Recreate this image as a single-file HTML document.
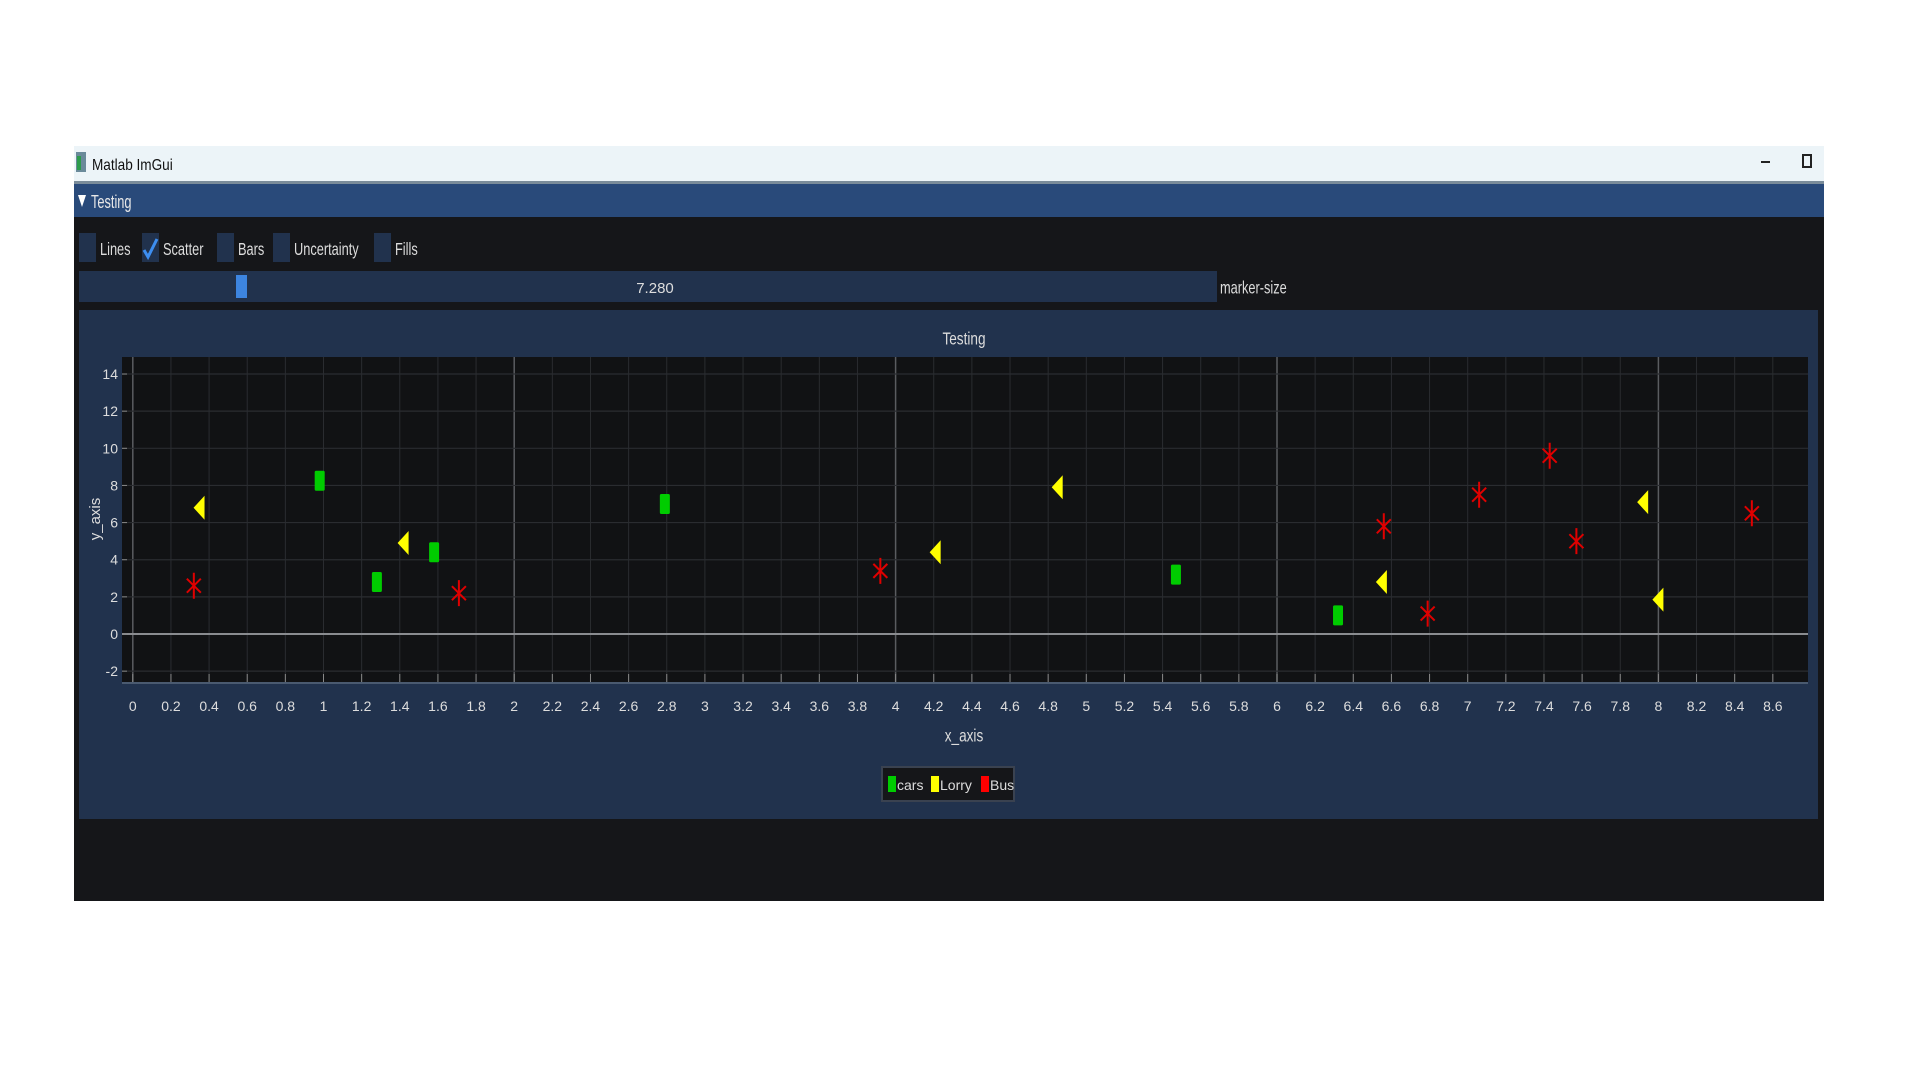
<!DOCTYPE html>
<html><head><meta charset="utf-8"><style>
html,body{margin:0;padding:0;background:#fff;width:1920px;height:1080px;overflow:hidden}
svg{display:block}
text{font-family:"Liberation Sans Narrow","Liberation Sans",sans-serif}
</style></head><body>
<svg id="root" width="1920" height="1080" viewBox="0 0 1920 1080">
 <rect x="0" y="0" width="1920" height="1080" fill="#ffffff"/>
 <g>
  <rect x="74" y="146" width="1750" height="35" fill="#ecf4f8"/>
  <rect x="74" y="181" width="1750" height="3" fill="#7a8c9a"/>
  <rect x="76" y="152" width="10" height="20" fill="#6a8a9a"/><rect x="77" y="156" width="4" height="14" fill="#2c9c4c"/>
  <text x="92" y="170" font-size="16" fill="#111" transform="translate(92,0) scale(0.85,1) translate(-92,0)">Matlab ImGui</text>
  <rect x="1761" y="161" width="9" height="2" fill="#222"/>
  <rect x="1803" y="155" width="8" height="12" fill="none" stroke="#222" stroke-width="2"/>
 </g>
 <rect x="74" y="184" width="1750" height="717" fill="#151619"/>
 <g>
  <rect x="74" y="184" width="1750" height="33" fill="#294a7a"/>
  <polygon points="78,195 86,195 82,207" fill="#fff"/>
  <text x="91" y="208" font-size="16" fill="#e8e8e8" transform="translate(91,0) scale(0.8,1.15) translate(-91,-27)">Testing</text>
 </g>
 <g>
  <rect x="79" y="233" width="17" height="29" fill="#21324d"/>
  <text x="100" y="255" font-size="16" fill="#ddd" transform="translate(100,0) scale(0.8,1.1) translate(-100,-23)">Lines</text>
  <rect x="142" y="233" width="17" height="29" fill="#21324d"/>
  <polyline points="144,250 148,257 157,239" fill="none" stroke="#3d8ef0" stroke-width="3"/>
  <text x="163" y="255" font-size="16" fill="#ddd" transform="translate(163,0) scale(0.8,1.1) translate(-163,-23)">Scatter</text>
  <rect x="217" y="233" width="17" height="29" fill="#21324d"/>
  <text x="238" y="255" font-size="16" fill="#ddd" transform="translate(238,0) scale(0.8,1.1) translate(-238,-23)">Bars</text>
  <rect x="273" y="233" width="17" height="29" fill="#21324d"/>
  <text x="294" y="255" font-size="16" fill="#ddd" transform="translate(294,0) scale(0.8,1.1) translate(-294,-23)">Uncertainty</text>
  <rect x="374" y="233" width="17" height="29" fill="#21324d"/>
  <text x="395" y="255" font-size="16" fill="#ddd" transform="translate(395,0) scale(0.8,1.1) translate(-395,-23)">Fills</text>
 </g>
 <g>
  <rect x="79" y="271" width="1138" height="31" fill="#21324d"/>
  <rect x="236" y="275" width="11" height="23" fill="#3d85e0"/>
  <text x="655" y="293" font-size="15" fill="#ddd" text-anchor="middle">7.280</text>
  <text x="1220" y="294" font-size="16" fill="#ddd" transform="translate(1220,0) scale(0.8,1.1) translate(-1220,-27)">marker-size</text>
 </g>
 <rect x="79" y="310" width="1739" height="509" fill="#21324d"/>
 <text x="964" y="344" font-size="16" fill="#ddd" text-anchor="middle" transform="translate(964,0) scale(0.85,1.1) translate(-964,-31)">Testing</text>
 <rect x="122" y="357" width="1686" height="326" fill="#111214"/>
 <g id="grid"></g>
 <g id="ticks"></g>
 <g id="marks"></g>
 <text x="0" y="0" font-size="15" fill="#ddd" text-anchor="middle" transform="translate(100,519) rotate(-90)">y_axis</text>
 <text x="964" y="741" font-size="16" fill="#ddd" text-anchor="middle" transform="translate(964,0) scale(0.85,1.1) translate(-964,-67)">x_axis</text>
 <g>
  <rect x="882" y="767" width="132" height="34" fill="#151619" stroke="#3a4250" stroke-width="2"/>
  <rect x="888" y="776" width="8" height="16" fill="#00cc00"/>
  <text x="897" y="790" font-size="14" fill="#ddd">cars</text>
  <rect x="931" y="776" width="8" height="16" fill="#ffff00"/>
  <text x="940" y="790" font-size="14" fill="#ddd">Lorry</text>
  <rect x="981" y="776" width="8" height="16" fill="#ff0000"/>
  <text x="990" y="790" font-size="14" fill="#ddd">Bus</text>
 </g>
</svg>
<script>
const carsX=[0.98,1.28,1.58,2.79,5.47,6.32];
const carsY=[8.25,2.8,4.4,7.0,3.2,1.0];
const lorryX=[0.35,1.42,4.21,4.85,6.55,7.92,8.0];
const lorryY=[6.8,4.9,4.4,7.9,2.8,7.1,1.85];
const busX=[0.32,1.71,3.92,6.56,6.79,7.06,7.43,7.57,8.49];
const busY=[2.6,2.2,3.4,5.8,1.1,7.5,9.6,5.0,6.5];
const xTicks=[0,0.2,0.4,0.6,0.8,1,1.2,1.4,1.6,1.8,2,2.2,2.4,2.6,2.8,3,3.2,3.4,3.6,3.8,4,4.2,4.4,4.6,4.8,5,5.2,5.4,5.6,5.8,6,6.2,6.4,6.6,6.8,7,7.2,7.4,7.6,7.8,8,8.2,8.4,8.6];
const yTicks=[-2,0,2,4,6,8,10,12,14];
const NS='http://www.w3.org/2000/svg';
function sx(v){return 132.8+v*190.7;}
function sy(v){return 634-v*18.57;}
function mk(tag,attrs,parent){const e=document.createElementNS(NS,tag);for(const k in attrs)e.setAttribute(k,attrs[k]);parent.appendChild(e);return e;}
const grid=document.getElementById('grid'),ticks=document.getElementById('ticks'),marks=document.getElementById('marks');
xTicks.forEach(t=>{
 const major=Math.abs(t/2-Math.round(t/2))<1e-6;
 const l=mk('line',{x1:sx(t),x2:sx(t),y1:357,y2:683,stroke:major?'#5a5c60':'#2a2c30','stroke-width':major?1.5:1},grid);
 
 
 mk('line',{x1:sx(t),x2:sx(t),y1:674,y2:683,stroke:'#888','stroke-width':1},ticks);
 const tx=mk('text',{x:sx(t),y:711,'font-size':14,fill:'#ddd','text-anchor':'middle'},ticks);
 tx.textContent=String(t);
 
 
});
yTicks.forEach(t=>{
 const l=mk('line',{x1:122,x2:1808,y1:sy(t),y2:sy(t),stroke:t===0?'#8a8c90':'#2a2c30','stroke-width':t===0?2:1.2},grid);
 
 
 mk('line',{x1:122,x2:127,y1:sy(t),y2:sy(t),stroke:'#888'},ticks);
 const tx=mk('text',{x:118,y:sy(t)+5,'font-size':14,fill:'#ddd','text-anchor':'end'},ticks);
 tx.textContent=String(t);
 
 
});
mk('line',{x1:122,x2:1808,y1:683,y2:683,stroke:'#4a5a70','stroke-width':2},ticks);
carsX.forEach((x,i)=>{
 const r=mk('rect',{x:sx(x)-5,y:sy(carsY[i])-10,width:10,height:20,rx:1.5,fill:'#00cc00'},marks);
 
 
});
lorryX.forEach((x,i)=>{
 const cx=sx(x),cy=sy(lorryY[i]);
 const p=mk('polygon',{points:`${cx-6},${cy} ${cx+5},${cy-12} ${cx+5},${cy+12}`,fill:'#ffff00'},marks);
 
 
});
busX.forEach((x,i)=>{
 const cx=sx(x),cy=sy(busY[i]);
 const g=mk('path',{d:`M${cx},${cy-13}V${cy+13}M${cx-7},${cy-7}L${cx+7},${cy+7}M${cx+7},${cy-7}L${cx-7},${cy+7}`,stroke:'#e00000','stroke-width':2,fill:'none'},marks);
 
 
});
</script>
</body></html>
